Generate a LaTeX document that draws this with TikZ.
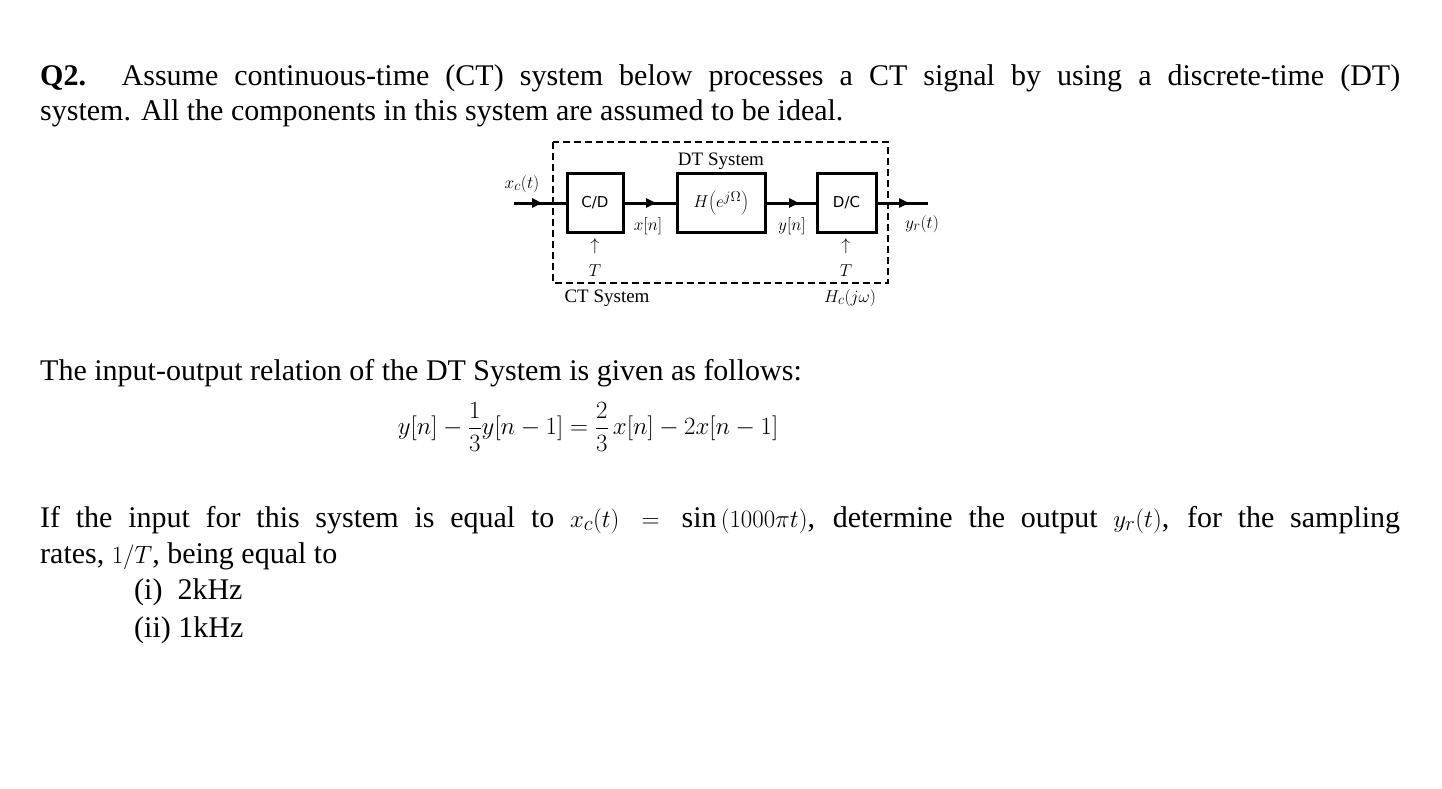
\documentclass[tikz,border=0pt]{standalone}
\usepackage{fontspec}
\setmainfont{Liberation Serif}
\newfontfamily\sansf{DejaVu Sans}
\usetikzlibrary{arrows.meta}
\begin{document}
\begin{tikzpicture}[x=1pt,y=-1pt,
  blk/.style={draw,line width=3pt,minimum height=59pt,inner sep=0pt},
  sig/.style={line width=3pt},
  arr/.style={-{Triangle[length=10pt,width=9pt]}},
  lbl/.style={font=\fontsize{19}{22}\selectfont},
  txt/.style={anchor=base west,inner sep=0pt,font=\fontsize{30}{36}\selectfont}]
\useasboundingbox (0,0) rectangle (1442,788);
\fill[white] (0,0) rectangle (1442,788);
% text
\node[txt] (q1) at (40,85) {\hbox to 1360pt{\textbf{Q2.} Assume continuous-time (CT) system below processes a CT signal by using a discrete-time (DT)}};
\node[txt] (q2) at (40,120) {system. All the components in this system are assumed to be ideal.};
% diagram
\draw[line width=2.2pt,dash pattern=on 7pt off 4pt] (553,142) rectangle (888,283);
\node[blk,minimum width=56pt,font=\sansf\fontsize{15}{17}\selectfont] (cd) at (595,203) {C/D};
\node[blk,minimum width=88pt,font=\fontsize{19}{22}\selectfont] (h) at (721,203) {$H\!\left(e^{j\Omega}\right)$};
\node[blk,minimum width=59pt,font=\sansf\fontsize{15}{17}\selectfont] (dc) at (846.5,203) {D/C};
\coordinate (in) at (514,203);
\coordinate (out) at (928,203);
\draw[sig] (in) -- (cd.west);
\draw[sig,arr] (in) -- (542,203);
\draw[sig] (cd.east) -- (h.west);
\draw[sig,arr] (cd.east) -- (656,203);
\draw[sig] (h.east) -- (dc.west);
\draw[sig,arr] (h.east) -- (799,203);
\draw[sig] (dc.east) -- (out);
\draw[sig,arr] (dc.east) -- (909,203);
\node[lbl] (xc) at (522,184) {$x_c(t)$};
\node[lbl] (xn) at (648,226) {$x[n]$};
\node[lbl] (yn) at (792,226) {$y[n]$};
\node[lbl] (yr) at (922,224) {$y_r(t)$};
\node[lbl] (dts) at (721,161) {DT System};
\node[lbl] (t1) at (595,271) {$T$};
\node[lbl] (t2) at (846,271) {$T$};
\node[lbl] at (595,246) {$\uparrow$};
\node[lbl] at (846,246) {$\uparrow$};
\node[lbl] (cts) at (607,298) {CT System};
\node[lbl] (hc) at (850,298) {$H_c(j\omega)$};
% relation
\node[txt] (rel) at (40,380) {The input-output relation of the DT System is given as follows:};
\node[inner sep=0pt,font=\fontsize{35}{40}\selectfont] (eq) at (588,427) {$\displaystyle y[n]-\frac{1}{3}y[n-1]=\frac{2}{3}\,x[n]-2x[n-1]$};
\node[txt] (p1) at (40,527) {\hbox to 1360pt{If the input for this system is equal to $x_c(t)=\sin\,(1000\pi t)$, determine the output $y_r(t)$, for the sampling}};
\node[txt] (p2) at (40,563) {rates, $1/T$, being equal to};
\node[txt] (i1) at (134,599) {(i)\enspace 2kHz};
\node[txt] (i2) at (134,637) {(ii) 1kHz};
\end{tikzpicture}
\end{document}
